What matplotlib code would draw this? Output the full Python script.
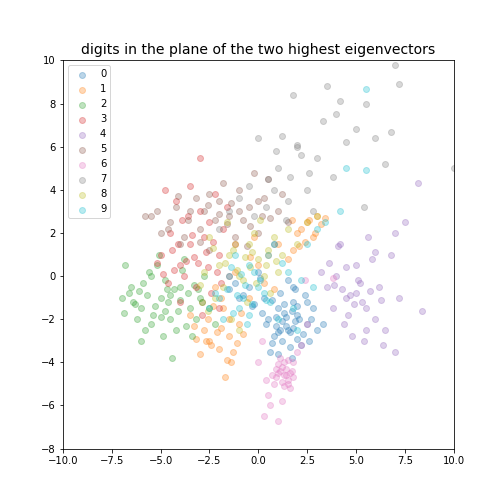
import matplotlib
matplotlib.use("Agg")
import matplotlib.pyplot as plt

labels = ["0","1","2","3","4","5","6","7","8","9"]
x0 = [0.5,1.0,1.5,2.0,2.5,1.2,1.8,0.8,2.2,1.4,0.3,1.6,2.8,1.1,0.6,2.0,1.3,1.9,-0.5,-1.0,0.0,0.9,2.4,1.7,1.0,3.0,0.2,1.5,2.1,-0.3,1.2,0.7,2.6,1.8,-1.2,
      1.4,1.7,2.3,0.9,1.1,2.0,1.6,0.4,-0.2,-0.8,1.9,2.7,1.3,0.7,2.5,1.0,1.8,-1.5,0.1,3.3]
y0 = [-2.0,-1.5,-2.5,-1.8,-2.2,-3.0,-1.2,-2.8,-3.2,-1.9,-1.0,-2.6,-1.5,-0.8,-3.5,-2.9,-1.3,-0.6,-0.5,-1.0,0.2,-2.3,-0.9,-3.8,-3.6,-2.5,-1.7,-0.2,-2.0,-1.4,-2.1,-1.1,-3.0,-2.4,-0.3,
      -2.3,-1.6,-2.7,-1.9,-2.5,-1.4,-3.3,-2.2,-1.3,-0.9,-2.1,-2.0,-1.7,-3.1,-1.2,-2.6,-0.5,-0.6,-0.1,-2.2]
x1 = [-2.5,-2.0,-1.5,-1.0,-2.8,-3.0,-1.8,-0.5,0.0,0.5,1.0,2.0,2.5,3.0,2.8,-2.2,-1.2,-3.5,-2.6,-1.6,1.5,2.2,-0.8,0.3,-1.9,-2.4,-3.2,2.6,1.8,-1.4,-0.2,-2.9,-1.1,3.2,-1.7,
      -2.1,-1.3,-2.7,-0.9,2.4,2.9,1.7,-3.3,-1.9,-2.3,0.8,-0.4,-1.5,2.1,3.4]
y1 = [-3.0,-3.4,-2.8,-2.2,-2.5,-3.6,-1.5,-1.0,0.5,1.0,1.5,2.0,2.5,2.8,1.8,-0.5,0.2,-1.8,-2.0,-3.9,0.8,2.2,-2.7,-0.3,-1.0,-3.2,-2.9,2.6,1.2,-4.0,1.8,-1.2,-3.1,2.4,-4.7,
      -2.6,-3.5,-3.0,-1.7,1.6,2.0,2.6,-2.3,-2.4,-1.4,-0.6,0.9,-2.0,1.4,2.7]
x2 = [-7.0,-6.5,-6.0,-5.5,-5.0,-4.5,-4.0,-3.5,-3.0,-6.8,-6.2,-5.8,-5.2,-4.8,-4.2,-3.8,-3.2,-2.8,-6.0,-5.4,-4.6,-4.4,-3.6,-5.6,-6.6,-4.9,-3.4,-2.5,-5.9,-4.1,-6.3,-5.1,-3.9,-4.3,-2.2,
      -6.4,-5.7,-5.3,-4.7,-4.0,-3.3,-6.9,-5.0,-4.5,-3.7,-2.9,-6.1,-5.5,-4.8,-3.1]
y2 = [-1.0,-0.5,-1.5,0.0,-1.0,-2.0,-0.5,-1.5,-1.0,0.5,-2.0,-2.5,0.5,-0.2,-2.5,0.8,-2.0,0.0,-3.0,-1.8,-1.2,-3.8,-0.8,0.2,-0.8,-2.8,-2.8,-1.5,-0.3,-1.6,-1.3,1.0,0.3,-0.6,-2.2,
      -1.2,-0.9,-1.4,-0.6,-1.1,-0.4,-1.7,-1.9,-0.9,-2.3,-1.2,-0.7,-2.2,-1.6,-0.6]
x3 = [-5.0,-4.5,-4.0,-3.5,-3.0,-2.5,-2.0,-1.5,-4.8,-4.2,-3.8,-3.2,-2.8,-2.2,-1.8,-4.0,-3.5,-2.6,-3.0,-5.2,-4.4,-1.2,-2.4,-3.6,-2.0,-4.6,-3.3,-1.6,-2.9,-3.9,
      -4.3,-3.7,-2.7,-2.1,-3.4,-4.9,-2.3,-1.9,-3.1,-4.1]
y3 = [1.0,2.0,0.5,1.5,3.0,2.5,1.0,0.0,4.0,3.5,0.0,-0.5,1.8,3.8,2.2,-1.2,4.2,0.4,5.5,0.6,1.2,1.5,-0.8,2.8,-1.5,-0.3,0.9,3.2,-1.8,2.6,
      0.3,0.7,1.1,0.2,1.9,0.1,1.6,-0.3,0.6,1.5]
x4 = [3.5,4.0,4.5,5.0,5.5,6.0,6.5,7.0,7.5,4.2,4.8,5.2,5.8,6.2,3.8,4.4,5.4,6.8,7.2,5.6,4.6,3.2,6.4,5.0,4.1,8.2,8.4,7.0,6.0,5.3,
      4.3,4.7,5.1,3.9,4.9,5.7,3.6,4.5,6.3,5.5]
y4 = [-0.5,0.0,-1.0,0.5,-1.5,-2.0,-2.5,2.0,2.5,1.5,-2.8,-0.3,0.8,-0.5,-1.5,-2.2,-3.0,1.0,-1.0,1.8,-1.8,0.2,-3.2,-0.8,1.4,4.3,-1.6,-3.5,1.1,-1.2,
      -0.6,-0.9,-0.2,-0.4,-1.3,-0.7,0.6,0.4,-1.1,-2.5]
x5 = [-5.5,-5.0,-4.5,-4.0,-3.5,-3.0,-2.5,-2.0,-1.5,-1.0,-0.5,0.0,0.5,1.0,1.5,-3.8,-3.2,-2.2,-1.2,-0.8,0.3,0.8,-4.2,-2.8,-1.8,-0.2,1.2,-5.2,-2.5,-1.4,0.2,-0.6,
      -4.6,-3.6,-2.6,-1.6,-0.4,0.6,-3.0,-2.0,-1.0,0.0,-4.1,-5.8]
y5 = [2.8,2.0,2.5,1.5,3.0,2.2,3.8,3.5,2.8,4.0,3.2,2.0,4.5,3.0,2.5,1.8,3.6,2.6,1.8,2.6,3.6,1.5,3.2,3.0,4.3,4.8,3.8,3.0,1.2,3.4,2.8,1.4,
      2.2,2.6,3.3,2.4,2.3,2.7,1.6,2.9,3.0,3.5,3.7,2.8]
x6 = [1.0,1.2,1.5,0.8,1.8,2.0,0.5,1.3,1.1,1.6,0.3,0.0,1.4,0.9,2.2,1.7,0.6,1.0,1.2,0.4,1.5,2.5,0.2,1.3,
      1.1,1.4,1.2,0.9,1.6,1.0,1.3,1.5,0.7,1.8,2.4,3.8]
y6 = [-4.5,-4.2,-4.8,-5.0,-4.0,-3.5,-5.5,-4.6,-3.8,-5.2,-6.5,-4.0,-4.3,-4.7,-3.2,-4.4,-6.0,-6.7,-5.8,-4.8,-3.9,-2.2,-3.0,-5.1,
      -4.4,-4.6,-4.9,-4.3,-4.5,-4.1,-4.0,-5.0,-4.6,-4.7,-0.2,-0.1]
x7 = [0.5,1.0,1.5,2.0,2.5,3.0,3.5,4.0,4.5,5.0,5.5,6.0,6.5,7.0,7.2,1.8,2.2,2.8,0.0,3.8,4.2,6.8,1.2,5.4,2.0,0.8,3.3,1.6,10.0,-0.5,
      -1.5,-1.0,-0.2,0.4,1.4,2.6,-2.0,0.9]
y7 = [4.5,5.0,3.5,6.0,4.0,5.5,8.8,7.5,6.2,6.8,8.0,6.4,5.2,9.8,8.9,8.4,5.6,3.0,6.4,4.6,8.1,6.7,6.5,3.2,6.1,4.0,7.2,4.6,5.0,4.2,
      3.0,3.6,2.8,3.2,2.6,4.8,2.2,5.8]
x8 = [-2.0,-1.5,-1.0,-0.5,0.0,0.5,1.0,-2.5,-1.8,-1.2,-0.8,-0.2,0.3,0.8,-2.2,-1.6,-0.6,0.6,1.5,2.5,3.0,-1.0,-2.8,0.1,1.2,-0.4,2.0,-1.4,-3.0,
      -1.7,-1.1,-0.3,0.4,-2.3,-0.7,0.9,-1.3,-0.1,-2.6]
y8 = [0.5,1.0,0.0,1.5,0.8,1.2,0.2,1.8,-0.5,1.5,-0.2,2.0,0.0,1.8,-1.0,2.5,-1.2,-0.8,2.2,2.5,2.8,-2.5,0.2,2.6,1.0,0.4,1.5,-2.0,-0.4,
      0.6,0.3,1.1,0.5,1.3,0.9,0.7,1.2,-0.3,-1.6]
x9 = [-2.0,-1.5,-1.0,-0.5,0.0,0.5,1.0,1.5,2.0,2.5,3.0,-1.8,-1.2,-0.8,-0.2,0.3,0.8,1.8,2.8,4.2,4.5,5.5,5.5,3.4,-2.5,-0.6,2.2,1.2,-1.4,0.6,
      -1.6,-1.1,-0.7,-0.3,0.1,-0.9,-1.3,-2.2,0.4,-0.5]
y9 = [-1.0,0.0,-1.5,0.5,-0.5,1.0,-2.0,0.2,-2.5,1.5,2.2,-2.0,1.0,-1.0,0.2,-0.8,1.5,-1.5,-0.5,3.0,5.0,8.7,4.9,2.5,-1.5,-2.2,-0.2,0.6,0.4,-1.2,
      -0.6,-0.9,-0.4,-1.3,-0.2,0.1,-1.7,-0.8,-1.1,-1.8]

xs = [x0,x1,x2,x3,x4,x5,x6,x7,x8,x9]
ys = [y0,y1,y2,y3,y4,y5,y6,y7,y8,y9]

fig, ax = plt.subplots(figsize=(7,7), dpi=72)
for i, lab in enumerate(labels):
    ax.scatter(xs[i], ys[i], alpha=0.3, label=lab, s=36)
ax.set_xlim(-10, 10)
ax.set_ylim(-8, 10)
ax.set_title("digits in the plane of the two highest eigenvectors", fontsize=14)
ax.legend(loc="upper left")
fig.savefig("out.png", dpi=72)
